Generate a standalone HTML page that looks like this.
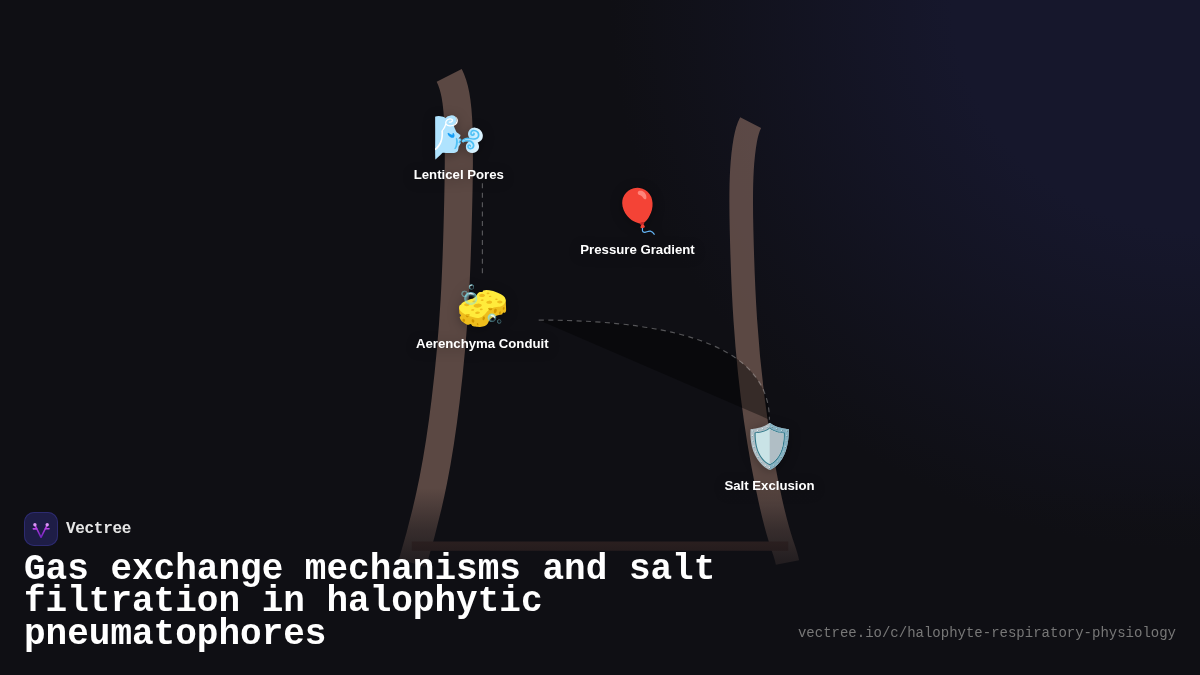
<!DOCTYPE html>
<html lang="en">
<head>
<meta charset="utf-8">
<title>Gas exchange mechanisms and salt filtration in halophytic pneumatophores</title>
<style>
*{box-sizing:border-box;margin:0;padding:0}
html,body{width:1200px;height:675px;overflow:hidden;background:#0f0f14}
body{position:relative;font-family:"Liberation Sans",sans-serif}
.bg{position:absolute;inset:0;background:radial-gradient(590px 550px at 100% 0%,#16172c 0,#16172c 42%,#0f0f14 100%)}
svg.art{position:absolute;left:0;top:0;width:1200px;height:675px}
.ico{font-family:"Noto Color Emoji","Liberation Sans",sans-serif;font-size:22.8px;text-anchor:middle}
.lbl{font-family:"Liberation Sans",sans-serif;font-weight:700;font-size:7.04px;fill:#fff;text-anchor:middle}
.node{filter:drop-shadow(0 1.5px 3px rgba(0,0,0,.3))}
.fade{position:absolute;left:0;right:0;bottom:0;height:187px;background:linear-gradient(to bottom,rgba(15,15,20,0) 0%,rgba(15,15,20,.474) 22.5%,rgba(15,15,20,.6) 31%,rgba(15,15,20,.7) 37%,rgba(15,15,20,.8) 45%,rgba(15,15,20,.92) 70%,rgba(15,15,20,.97) 100%)}
.foot{position:absolute;left:0;top:0;width:1200px;height:675px;transform:translateZ(0);will-change:transform}
.brand{position:absolute;left:24px;top:512px;height:34px;display:flex;align-items:center}
.logo{width:34px;height:34px;border-radius:10px;background:#1e1d46;box-shadow:inset 0 0 0 1px #2d2b70;overflow:hidden}
.brand span{font-family:"Liberation Mono",monospace;font-weight:700;font-size:16px;letter-spacing:-0.02em;color:#e5e5e5;margin-left:8px}
h1{position:absolute;left:24px;top:554px;font-family:"Liberation Mono",monospace;font-weight:700;font-size:36px;line-height:32.4px;color:#fff;width:760px}
.url{position:absolute;right:24px;top:625px;font-family:"Liberation Mono",monospace;font-size:14px;line-height:16px;color:#777}
</style>
</head>
<body>
<div class="bg"></div>
<svg class="art" viewBox="0 0 640 360">
  <path d="M239.57,40.16 C241.35,43.66 242.26,47.16 242.91,50.67 C244.06,56.89 244.39,63.11 244.57,69.33 C244.93,81.78 244.70,94.22 244.42,106.67 C244.02,124.44 243.53,142.22 242.49,160.00 C241.45,177.78 239.84,195.56 237.70,213.33 C235.99,227.56 233.94,241.78 231.11,256.00 C228.18,270.76 224.43,285.51 220.00,300.27" fill="none" stroke="#8d6e63" stroke-opacity=".6" stroke-width="15"/>
  <path d="M400.35,65.39 C398.74,68.48 398.04,71.57 397.48,74.67 C396.53,80.00 396.01,85.33 395.70,90.67 C395.07,101.33 395.25,112.00 395.50,122.67 C395.87,138.67 396.42,154.67 397.49,170.67 C398.67,188.44 400.48,206.22 403.05,224.00 C405.11,238.22 407.64,252.44 410.79,266.67 C412.56,274.67 414.53,282.67 417.21,290.67 C418.26,293.78 419.41,296.89 420.00,300.00" fill="none" stroke="#8d6e63" stroke-opacity=".6" stroke-width="12.6"/>
  <rect x="219.6" y="288.8" width="200.8" height="4.95" fill="#4e342e"/>
  <path d="M257.28,97.76 L257.28,145.8" fill="none" stroke="rgba(255,255,255,.3)" stroke-width="0.62" stroke-dasharray="2.68 2.35"/>
  <path d="M287.3,170.72 Q410.35,170.72 410.35,223.8" fill="#000" fill-opacity=".4" stroke="rgba(255,255,255,.3)" stroke-width="0.62" stroke-dasharray="2.68 2.35"/>
  <g class="node"><text class="ico" x="244.7" y="80.9">🌬️</text><text class="lbl" x="244.7" y="95.47">Lenticel Pores</text></g>
  <g class="node"><text class="ico" x="340" y="120.5">🎈</text><text class="lbl" x="340" y="135.47">Pressure Gradient</text></g>
  <g class="node"><text class="ico" x="257.6" y="171.15">🧽</text><text class="lbl" x="257.2" y="185.6">Aerenchyma Conduit</text></g>
  <g class="node"><text class="ico" x="410.4" y="246.0">🛡️</text><text class="lbl" x="410.4" y="261.3">Salt Exclusion</text></g>
</svg>
<div class="fade"></div>
<div class="foot">
<div class="brand"><div class="logo"><svg width="34" height="34" viewBox="0 0 34 34"><defs><linearGradient id="lg" x1="0" y1="11" x2="0" y2="26" gradientUnits="userSpaceOnUse"><stop offset="0" stop-color="#d048ee"/><stop offset="1" stop-color="#6d21bd"/></linearGradient></defs><path d="M10.9,12.8 L17,25.3 L23.2,12.8" fill="none" stroke="url(#lg)" stroke-width="1.5" stroke-linecap="round" stroke-linejoin="round"/><path d="M9.3,16.85 L12.6,16.85 M21.5,16.8 L25,16.8" fill="none" stroke="#b944e6" stroke-width="1.6" stroke-linecap="round"/><circle cx="10.9" cy="12.7" r="1.7" fill="#dc94f6"/><circle cx="23.2" cy="12.7" r="1.7" fill="#dc94f6"/></svg></div><span>Vectree</span></div>
<h1>Gas exchange mechanisms and salt filtration in halophytic pneumatophores</h1>
<div class="url">vectree.io/c/halophyte-respiratory-physiology</div>
</div>
</body>
</html>
